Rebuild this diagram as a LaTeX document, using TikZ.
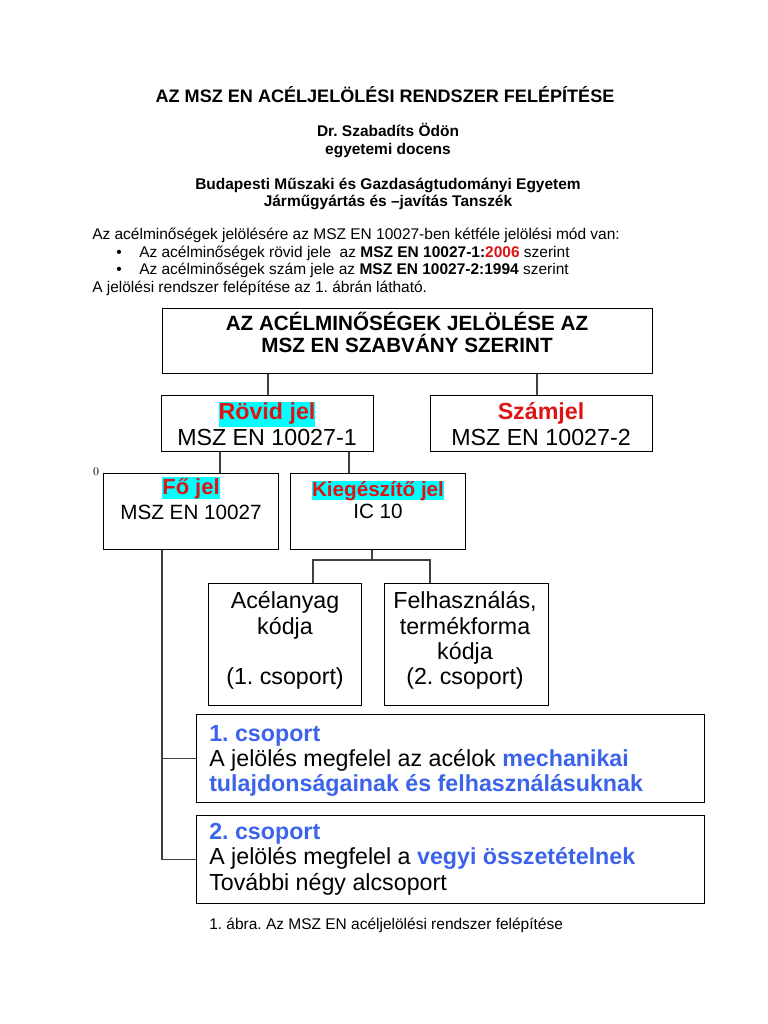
\documentclass[tikz,border=0pt]{standalone}
\usepackage{fontspec}
\setsansfont{Liberation Sans}
\usetikzlibrary{calc}
\newdimen\upx \upx=0.775pt
\definecolor{myred}{RGB}{222,20,20}
\definecolor{myblue}{RGB}{60,100,235}
\definecolor{hlcyan}{RGB}{0,255,255}
% highlight: #1 height above baseline, #2 depth, #3 text
\newcommand\hlt[3]{{\setlength{\fboxsep}{0pt}\colorbox{hlcyan}{\rule[-#2]{0pt}{\dimexpr#1+#2\relax}#3}}}
\tikzset{
  box/.style={draw=black, line width=0.8pt, inner sep=0pt, anchor=north west},
  conn/.style={draw=black!75, line width=0.8pt},
  txt/.style={inner sep=0pt, anchor=base},
  ltxt/.style={inner sep=0pt, anchor=base west},
  f12/.style={font=\sffamily\fontsize{12}{13.8}\selectfont},
  f12b/.style={font=\sffamily\bfseries\fontsize{12}{13.8}\selectfont},
  f14b/.style={font=\sffamily\bfseries\fontsize{14}{16}\selectfont},
  f16b/.style={font=\sffamily\bfseries\fontsize{16}{18.4}\selectfont},
  f16/.style={font=\sffamily\fontsize{16}{18.4}\selectfont},
  f17/.style={font=\sffamily\fontsize{17}{19.5}\selectfont},
  f18/.style={font=\sffamily\fontsize{18}{20.7}\selectfont},
}
\begin{document}
\frenchspacing
\begin{tikzpicture}[x=0.775pt,y=-0.775pt]
\useasboundingbox[fill=white] (0,0) rectangle (768,1024);

% header text
\node[txt,f14b] (title) at (385,102) {AZ MSZ EN ACÉLJELÖLÉSI RENDSZER FELÉPÍTÉSE};
\node[txt,f12b] (auth1) at (388,136) {Dr. Szabadíts Ödön};
\node[txt,f12b] (auth2) at (388,154) {egyetemi docens};
\node[txt,f12b] (univ1) at (388,189) {Budapesti Műszaki és Gazdaságtudományi Egyetem};
\node[txt,f12b] (univ2) at (388,206) {Járműgyártás és –javítás Tanszék};
\node[ltxt,f12] (p1) at (92,239) {Az acélminőségek jelölésére az MSZ EN 10027-ben kétféle jelölési mód van:};
\node[ltxt,f12] (b1) at (116,257) {•};
\node[ltxt,f12] (p2) at (139,257) {Az acélminőségek rövid jele\ \ az \textbf{MSZ EN 10027-1:\textcolor{myred}{2006}} szerint};
\node[ltxt,f12] (b2) at (116,274) {•};
\node[ltxt,f12] (p3) at (139,274) {Az acélminőségek szám jele az \textbf{MSZ EN 10027-2:1994} szerint};
\node[ltxt,f12] (p4) at (92,292) {A jelölési rendszer felépítése az 1. ábrán látható.};

% boxes
\node[box, minimum width=490\upx, minimum height=65\upx] (top) at (162,308) {};
\node[box, minimum width=212\upx, minimum height=56\upx] (rovid) at (161,395) {};
\node[box, minimum width=222\upx, minimum height=56\upx] (szam) at (430,395) {};
\node[box, minimum width=175\upx, minimum height=76\upx] (fo) at (103,473) {};
\node[box, minimum width=175\upx, minimum height=76\upx] (kieg) at (290,473) {};
\node[box, minimum width=153\upx, minimum height=122\upx] (acel) at (208,583) {};
\node[box, minimum width=164\upx, minimum height=122\upx] (felh) at (384,583) {};
\node[box, minimum width=508\upx, minimum height=88\upx] (g1) at (196,714) {};
\node[box, minimum width=508\upx, minimum height=88\upx] (g2) at (196,815) {};

% box texts
\node[txt,f16b] (t1) at (407,330) {AZ ACÉLMINŐSÉGEK JELÖLÉSE AZ};
\node[txt,f16b] (t2) at (407,352) {MSZ EN SZABVÁNY SZERINT};
\node[txt,f18] (r1) at (267,419) {\hlt{12.4pt}{6pt}{\textbf{\textcolor{myred}{Rövid jel}}}};
\node[txt,f18] (r2) at (267,445) {MSZ EN 10027-1};
\node[txt,f18] (s1) at (541,419) {\textbf{\textcolor{myred}{Számjel}}};
\node[txt,f18] (s2) at (541,445) {MSZ EN 10027-2};
\node[txt,f17] (fo1) at (191,494) {\hlt{13.2pt}{2.4pt}{\textbf{\textcolor{myred}{Fő jel}}}};
\node[txt,f16] (fo2) at (191,519) {MSZ EN 10027};
\node[txt,f16] (k1) at (378,496) {\hlt{11.8pt}{1.8pt}{\textbf{\textcolor{myred}{Kiegészítő jel}}}};
\node[txt,f16] (k2) at (378,518) {IC 10};
\node[txt,f18] (a1) at (285,608) {Acélanyag};
\node[txt,f18] (a2) at (285,634) {kódja};
\node[txt,f18] (a3) at (285,684) {(1. csoport)};
\node[txt,f18] (h1) at (465,608) {Felhasználás,};
\node[txt,f18] (h2) at (465,634) {termékforma};
\node[txt,f18] (h3) at (465,659) {kódja};
\node[txt,f18] (h4) at (465,684) {(2. csoport)};
\node[ltxt,f18] (ga1) at (209,741) {\textbf{\textcolor{myblue}{1. csoport}}};
\node[ltxt,f18] (ga2) at (209,766) {A jelölés megfelel az acélok \textbf{\textcolor{myblue}{mechanikai}}};
\node[ltxt,f18] (ga3) at (209,791) {\textbf{\textcolor{myblue}{tulajdonságainak és felhasználásuknak}}};
\node[ltxt,f18] (gb1) at (209,839) {\textbf{\textcolor{myblue}{2. csoport}}};
\node[ltxt,f18] (gb2) at (209,864) {A jelölés megfelel a \textbf{\textcolor{myblue}{vegyi összetételnek}}};
\node[ltxt,f18] (gb3) at (209,890) {További négy alcsoport};
\node[ltxt,f12] (cap) at (209,929) {1. ábra. Az MSZ EN acéljelölési rendszer felépítése};
\node[inner sep=0pt, font=\rmfamily\fontsize{9}{10}\selectfont] (zero) at (96,472) {0};

% connectors
\coordinate (xa) at (268,0);
\coordinate (xb) at (537,0);
\coordinate (xc) at (220,0);
\coordinate (xd) at (349,0);
\coordinate (xk) at (372,0);
\coordinate (xl) at (313,0);
\coordinate (xr) at (430,0);
\coordinate (yb) at (0,560);
\coordinate (xf) at (162,0);
\draw[conn] (top.south -| xa) -- (rovid.north -| xa);
\draw[conn] (top.south -| xb) -- (szam.north -| xb);
\draw[conn] (rovid.south -| xc) -- (fo.north -| xc);
\draw[conn] (rovid.south -| xd) -- (kieg.north -| xd);
\draw[conn] (kieg.south -| xk) -- (xk |- yb);
\draw[conn] (acel.north -| xl) -- (xl |- yb) -- (xr |- yb) -- (felh.north -| xr);
\draw[conn] (fo.south -| xf) |- (g2.west);
\draw[conn] (xf |- g1.west) -- (g1.west);
\end{tikzpicture}
\end{document}
